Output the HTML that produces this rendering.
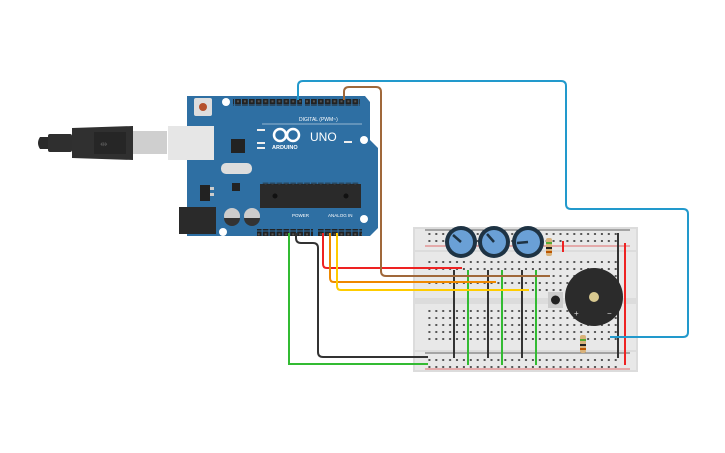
<!DOCTYPE html>
<html><head><meta charset="utf-8"><style>html,body{margin:0;padding:0;background:#fff;width:725px;height:453px;overflow:hidden}</style></head>
<body>
<svg width="725" height="453" viewBox="0 0 725 453" xmlns="http://www.w3.org/2000/svg" font-family="Liberation Sans, sans-serif">
<defs>
<pattern id="holes" x="427" y="0" width="6.9" height="7" patternUnits="userSpaceOnUse"><rect x="1.4" y="2" width="2" height="2" fill="#555"/></pattern>
<pattern id="pins" x="0" y="0" width="6.9" height="7" patternUnits="userSpaceOnUse"><rect x="0.5" y="0.5" width="5.8" height="6" fill="#222"/><rect x="2.4" y="2.4" width="2" height="2" fill="#555"/></pattern>
</defs>

<!-- USB cable -->
<path d="M50 137 L40 137 Q36 143 40 149 L50 149 Z" fill="#2a2a2a"/>
<rect x="48" y="134" width="24" height="18" rx="2" fill="#2f2f2f"/>
<path d="M72 128 L133 126 L133 160 L72 158 Z" fill="#303030"/>
<rect x="94" y="132" width="32" height="22" fill="#262626"/>
<text x="100" y="147" font-size="9" fill="#555">⇹</text>
<rect x="133" y="131" width="34" height="23" fill="#cfcfcf"/>
<rect x="168" y="126" width="46" height="34" fill="#e6e6e6"/>

<!-- Arduino board -->
<path d="M187 96 L365 96 L370 102 L370 140 L378 148 L378 228 L370 236 L187 236 Z" fill="#2e6fa3"/>
<rect x="194" y="98" width="18" height="18" rx="2" fill="#ddd"/>
<circle cx="203" cy="107" r="4" fill="#b5502b"/>
<circle cx="226" cy="102" r="4" fill="#fff"/>
<circle cx="364" cy="140" r="4" fill="#fff"/>
<circle cx="364" cy="219" r="4" fill="#fff"/>
<circle cx="223" cy="232" r="4" fill="#fff"/>
<rect x="168" y="126" width="46" height="34" fill="#e6e6e6"/>
<rect x="231" y="139" width="14" height="14" fill="#222"/>
<rect x="221" y="163" width="31" height="11" rx="5" fill="#ddd"/>
<rect x="232" y="183" width="8" height="8" fill="#222"/>
<rect x="200" y="185" width="10" height="16" fill="#222"/>
<rect x="210" y="187" width="4" height="3" fill="#ccc"/><rect x="210" y="193" width="4" height="3" fill="#ccc"/>
<rect x="179" y="207" width="37" height="27" fill="#2a2a2a"/>
<circle cx="232" cy="216" r="8" fill="#ccc"/><path d="M224 218 A8 8 0 0 0 240 218 Z" fill="#333"/>
<circle cx="252" cy="216" r="8" fill="#ccc"/><path d="M244 218 A8 8 0 0 0 260 218 Z" fill="#333"/>
<rect x="260" y="184" width="101" height="24" fill="#2a2a2a"/>
<circle cx="275" cy="196" r="2.5" fill="#111"/><circle cx="346" cy="196" r="2.5" fill="#111"/>
<rect x="262" y="182" width="97" height="3" fill="url(#pins)" opacity="0.5"/>
<!-- logo -->
<circle cx="280" cy="135" r="6" fill="none" stroke="#fff" stroke-width="2.5"/>
<circle cx="293" cy="135" r="6" fill="none" stroke="#fff" stroke-width="2.5"/>
<text x="272" y="149" font-size="5.5" fill="#fff" font-weight="bold">ARDUINO</text>
<text x="310" y="141" font-size="12" fill="#fff">UNO</text>
<text x="299" y="121" font-size="5" fill="#fff">DIGITAL (PWM~)</text>
<line x1="262" y1="124" x2="362" y2="124" stroke="#fff" stroke-width="0.6"/>
<text x="292" y="217" font-size="4.5" fill="#fff">POWER</text>
<text x="328" y="217" font-size="4.5" fill="#fff">ANALOG IN</text>
<rect x="257" y="129" width="8" height="2" fill="#eee"/><rect x="257" y="142" width="8" height="2" fill="#eee"/><rect x="257" y="147" width="8" height="2" fill="#eee"/><rect x="344" y="141" width="8" height="2" fill="#eee"/>
<!-- headers -->
<rect x="233" y="99" width="69" height="7" fill="url(#pins)"/>
<rect x="305" y="99" width="55" height="7" fill="url(#pins)"/>
<rect x="257" y="229" width="56" height="7" fill="url(#pins)"/>
<rect x="318" y="229" width="44" height="7" fill="url(#pins)"/>

<!-- Breadboard -->
<rect x="413" y="227" width="225" height="145" fill="#dcdcdc"/>
<rect x="415" y="229" width="221" height="21" fill="#e8e8e8"/>
<rect x="415" y="252" width="221" height="46" fill="#e8e8e8"/>
<rect x="415" y="304" width="221" height="46" fill="#e8e8e8"/>
<rect x="415" y="352" width="221" height="18" fill="#e8e8e8"/>
<line x1="425" y1="230" x2="630" y2="230" stroke="#333" stroke-width="0.8"/>
<line x1="425" y1="246" x2="630" y2="246" stroke="#d44" stroke-width="0.8"/>
<line x1="425" y1="353" x2="630" y2="353" stroke="#333" stroke-width="0.8"/>
<line x1="425" y1="369" x2="630" y2="369" stroke="#d44" stroke-width="0.8"/>
<rect x="427" y="233" width="193" height="14" fill="url(#holes)"/>
<rect x="427" y="258" width="193" height="35" fill="url(#holes)"/>
<rect x="427" y="308" width="193" height="35" fill="url(#holes)"/>
<rect x="427" y="354" width="193" height="14" fill="url(#holes)"/>

<!-- breadboard wires -->
<g stroke-width="2" fill="none">
<line x1="454" y1="270" x2="454" y2="358" stroke="#333"/>
<line x1="468" y1="270" x2="468" y2="365" stroke="#3b3"/>
<line x1="488" y1="270" x2="488" y2="358" stroke="#333"/>
<line x1="502" y1="270" x2="502" y2="365" stroke="#3b3"/>
<line x1="522" y1="270" x2="522" y2="358" stroke="#333"/>
<line x1="536" y1="270" x2="536" y2="365" stroke="#3b3"/>
<line x1="563" y1="241" x2="563" y2="252" stroke="#e22"/>
<line x1="618" y1="233" x2="618" y2="358" stroke="#333"/>
<line x1="625" y1="243" x2="625" y2="365" stroke="#e22"/>
<!-- arduino wires -->
<path d="M323 233 V264 Q323 268 327 268 H462" stroke="#e22"/>
<path d="M330 233 V278 Q330 282 334 282 H496" stroke="#e80"/>
<path d="M337 233 V286 Q337 290 341 290 H529" stroke="#fc0"/>
<path d="M344 100 V92 Q344 87 349 87 H376 Q381 87 381 92 V271 Q381 276 386 276 H550" stroke="#a0683a"/>
<path d="M298 100 V86 Q298 81 303 81 H561 Q566 81 566 86 V204 Q566 209 571 209 H683 Q688 209 688 214 V332 Q688 337 683 337 H610" stroke="#29c"/>
<path d="M289 233 V364 H428" stroke="#3b3"/>
<path d="M296 233 V238 Q296 243 301 243 H313 Q318 243 318 248 V352 Q318 357 323 357 H428" stroke="#333"/>
</g>

<!-- pots -->
<g>
<circle cx="461" cy="242" r="16" fill="#1e3344"/><circle cx="461" cy="242" r="12" fill="#6aa0d6"/><line x1="461" y1="242" x2="453" y2="235" stroke="#1e3344" stroke-width="2.5"/>
<circle cx="494" cy="242" r="16" fill="#1e3344"/><circle cx="494" cy="242" r="12" fill="#6aa0d6"/><line x1="494" y1="242" x2="487" y2="234" stroke="#1e3344" stroke-width="2.5"/>
<circle cx="528" cy="242" r="16" fill="#1e3344"/><circle cx="528" cy="242" r="12" fill="#6aa0d6"/><line x1="528" y1="242" x2="517" y2="243" stroke="#1e3344" stroke-width="2.5"/>
</g>
<!-- resistors -->
<rect x="546" y="238" width="6" height="18" rx="2" fill="#d9b27a"/>
<rect x="546" y="242" width="6" height="2" fill="#5a3"/><rect x="546" y="247" width="6" height="2" fill="#222"/><rect x="546" y="251" width="6" height="2" fill="#b50"/>
<rect x="580" y="335" width="6" height="18" rx="2" fill="#d9b27a"/>
<rect x="580" y="339" width="6" height="2" fill="#5a3"/><rect x="580" y="344" width="6" height="2" fill="#222"/><rect x="580" y="348" width="6" height="2" fill="#b50"/>
<!-- button -->
<rect x="548" y="292" width="15" height="16" fill="#ccc"/><circle cx="555.5" cy="300" r="4.5" fill="#222"/>
<!-- buzzer -->
<circle cx="594" cy="297" r="29" fill="#2b2b2b"/>
<circle cx="594" cy="297" r="5" fill="#d8c990"/>
<text x="574" y="316" font-size="8" fill="#ddd">+</text>
<text x="607" y="316" font-size="8" fill="#ddd">−</text>
</svg>
</body></html>
